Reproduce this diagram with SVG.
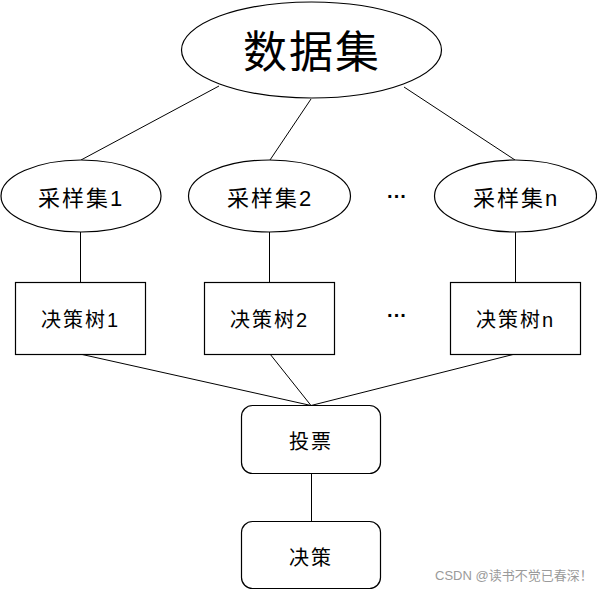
<svg xmlns="http://www.w3.org/2000/svg" width="597" height="590" viewBox="0 0 597 590">
<style>
.shape{fill:#fff;stroke:#000;stroke-width:1.2}
.conn line{stroke:#000;stroke-width:1}
text{font-family:"Liberation Sans","Noto Sans CJK SC",sans-serif;fill:#000;text-anchor:middle;dominant-baseline:central}
.big{font-size:44px;letter-spacing:2px}
.mid{font-size:22px;letter-spacing:2px}
.sm{font-size:20px;letter-spacing:2px}
.dots{font-size:20px;font-weight:bold}
.wm{font-size:13px;fill:#9a9a9a;text-anchor:start}
</style>
<rect width="597" height="590" fill="#fff"/>
<g id="connectors" class="conn">
<line x1="219" y1="86" x2="81" y2="160"/>
<line x1="311" y1="99" x2="270" y2="160"/>
<line x1="404" y1="87" x2="515" y2="160"/>
<line x1="80.5" y1="232" x2="80.5" y2="282.5"/>
<line x1="269.5" y1="232" x2="269.5" y2="282.5"/>
<line x1="515.5" y1="232" x2="515.5" y2="282.5"/>
<line x1="80" y1="354" x2="311" y2="405.5"/>
<line x1="270" y1="354" x2="311" y2="405.5"/>
<line x1="515" y1="354" x2="311" y2="405.5"/>
<line x1="311.5" y1="473.5" x2="311.5" y2="521.5"/>
</g>
<g id="dataset">
<ellipse class="shape" cx="311.5" cy="50" rx="130" ry="48"/>
<text class="big" x="312" y="52">数据集</text>
</g>
<g id="sample1">
<ellipse class="shape" cx="81" cy="196" rx="80" ry="36"/>
<text class="mid" x="81" y="198">采样集1</text>
</g>
<g id="sample2">
<ellipse class="shape" cx="269.5" cy="196" rx="81" ry="36"/>
<text class="mid" x="270" y="198">采样集2</text>
</g>
<g id="samplen">
<ellipse class="shape" cx="515.5" cy="196" rx="81" ry="36"/>
<text class="mid" x="516" y="198">采样集n</text>
</g>
<g id="dots1"><text class="dots" x="397" y="196">···</text></g>
<g id="tree1">
<rect class="shape" x="15.5" y="282.5" width="130" height="72"/>
<text class="sm" x="80.5" y="320">决策树1</text>
</g>
<g id="tree2">
<rect class="shape" x="204.5" y="282.5" width="130" height="72"/>
<text class="sm" x="269.5" y="320">决策树2</text>
</g>
<g id="treen">
<rect class="shape" x="450.5" y="282.5" width="130" height="72"/>
<text class="sm" x="515.5" y="320">决策树n</text>
</g>
<g id="dots2"><text class="dots" x="397" y="315">···</text></g>
<g id="vote">
<rect class="shape" x="241.5" y="405.5" width="139" height="68" rx="11"/>
<text class="sm" x="311" y="442">投票</text>
</g>
<g id="decision">
<rect class="shape" x="241.5" y="521.5" width="139" height="67" rx="11"/>
<text class="sm" x="311" y="558">决策</text>
</g>
<text class="wm" x="435" y="575">CSDN @读书不觉已春深！</text>
</svg>
